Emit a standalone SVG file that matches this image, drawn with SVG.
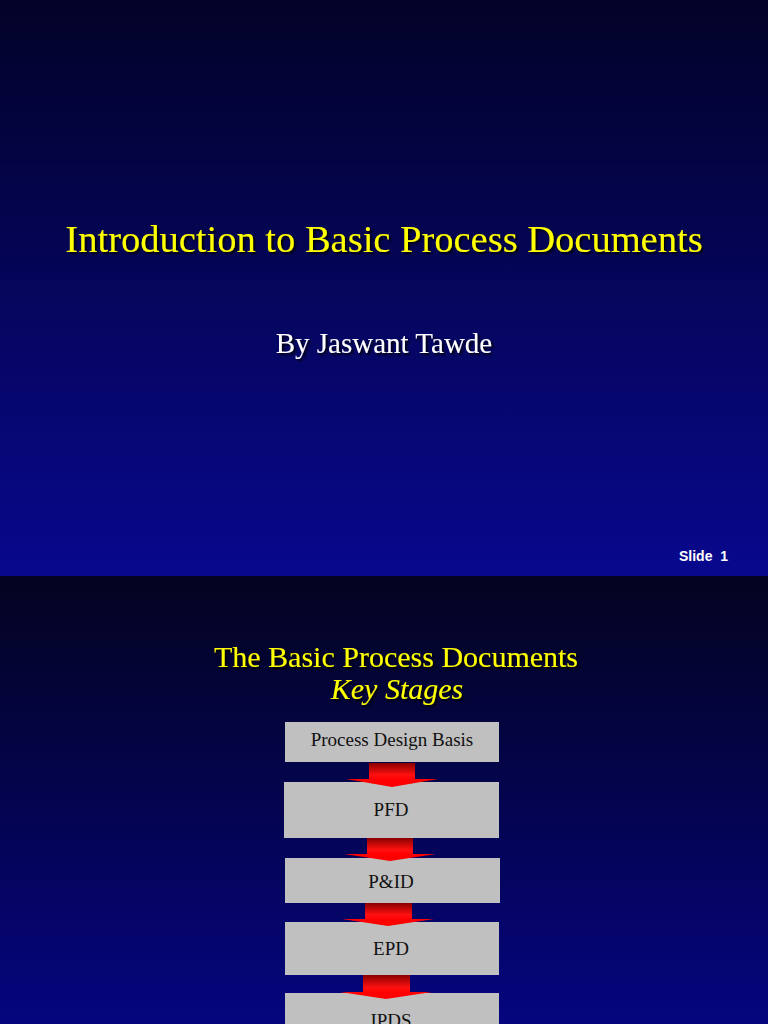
<svg xmlns="http://www.w3.org/2000/svg" width="768" height="1024" viewBox="0 0 768 1024">
<defs>
<linearGradient id="bg1" x1="0" y1="0" x2="0" y2="1">
<stop offset="0" stop-color="#020228"/>
<stop offset="1" stop-color="#08088e"/>
</linearGradient>
<linearGradient id="bg2" x1="0" y1="576" x2="0" y2="1152" gradientUnits="userSpaceOnUse">
<stop offset="0" stop-color="#030320"/>
<stop offset="1" stop-color="#06069a"/>
</linearGradient>
<linearGradient id="arr" x1="0" y1="0" x2="0" y2="1">
<stop offset="0" stop-color="#8a0000"/>
<stop offset="0.7" stop-color="#ff1010"/>
<stop offset="1" stop-color="#ff0000"/>
</linearGradient>
<filter id="sh" x="-5%" y="-20%" width="110%" height="140%">
<feDropShadow dx="2" dy="2" stdDeviation="0.8" flood-color="#000000" flood-opacity="0.9"/>
</filter>
<style>
.serif{font-family:"Liberation Serif","Times New Roman",serif}
.title{fill:#ffff00;font-size:38.5px;text-anchor:middle}
.sub{fill:#ffffff;font-size:29px;text-anchor:middle}
.t2{fill:#ffff00;font-size:30px;text-anchor:middle}
.box{fill:#c0c0c0}
.lbl{fill:#111111;font-size:19px;text-anchor:middle}
.slide{font-family:"Liberation Sans",Arial,sans-serif;font-weight:bold;font-size:14px;fill:#ffffff}
.head{fill:#ff0000}
</style>
</defs>
<rect x="0" y="0" width="768" height="576" fill="url(#bg1)"/>
<rect x="0" y="576" width="768" height="448" fill="url(#bg2)"/>
<g id="slide1-title" filter="url(#sh)">
<text class="serif title" x="384" y="252">Introduction to Basic Process Documents</text>
</g>
<g id="slide1-author" filter="url(#sh)">
<text class="serif sub" x="384" y="353">By Jaswant Tawde</text>
</g>
<text class="slide" x="679" y="561" xml:space="preserve">Slide  1</text>
<g id="slide2-title" filter="url(#sh)">
<text class="serif t2" x="396" y="667">The Basic Process Documents</text>
<text class="serif t2" x="397" y="699" font-style="italic">Key Stages</text>
</g>
<g id="node-pdb">
<rect class="box" x="285" y="722" width="214" height="40"/>
<text class="serif lbl" x="392" y="746">Process Design Basis</text>
</g>
<g id="node-pfd">
<rect class="box" x="284" y="782" width="215" height="56"/>
<text class="serif lbl" x="391" y="816">PFD</text>
</g>
<g id="node-pid">
<rect class="box" x="285" y="858" width="215" height="45"/>
<text class="serif lbl" x="391" y="888">P&amp;ID</text>
</g>
<g id="node-epd">
<rect class="box" x="285" y="922" width="214" height="53"/>
<text class="serif lbl" x="391" y="955">EPD</text>
</g>
<g id="node-ipds">
<rect class="box" x="285" y="993" width="214" height="40"/>
<text class="serif lbl" x="391" y="1027">IPDS</text>
</g>
<g id="connectors">
<g>
<rect x="369" y="763" width="46" height="17" fill="url(#arr)"/>
<polygon class="head" points="346,779 438,779 392,787"/>
</g>
<g>
<rect x="367" y="838" width="46" height="17" fill="url(#arr)"/>
<polygon class="head" points="344,854 436,854 390,861"/>
</g>
<g>
<rect x="365" y="903" width="47" height="17" fill="url(#arr)"/>
<polygon class="head" points="342,919 434,919 388,926"/>
</g>
<g>
<rect x="363" y="975" width="47" height="18" fill="url(#arr)"/>
<polygon class="head" points="340,992 432,992 386,999"/>
</g>
</g>
</svg>
